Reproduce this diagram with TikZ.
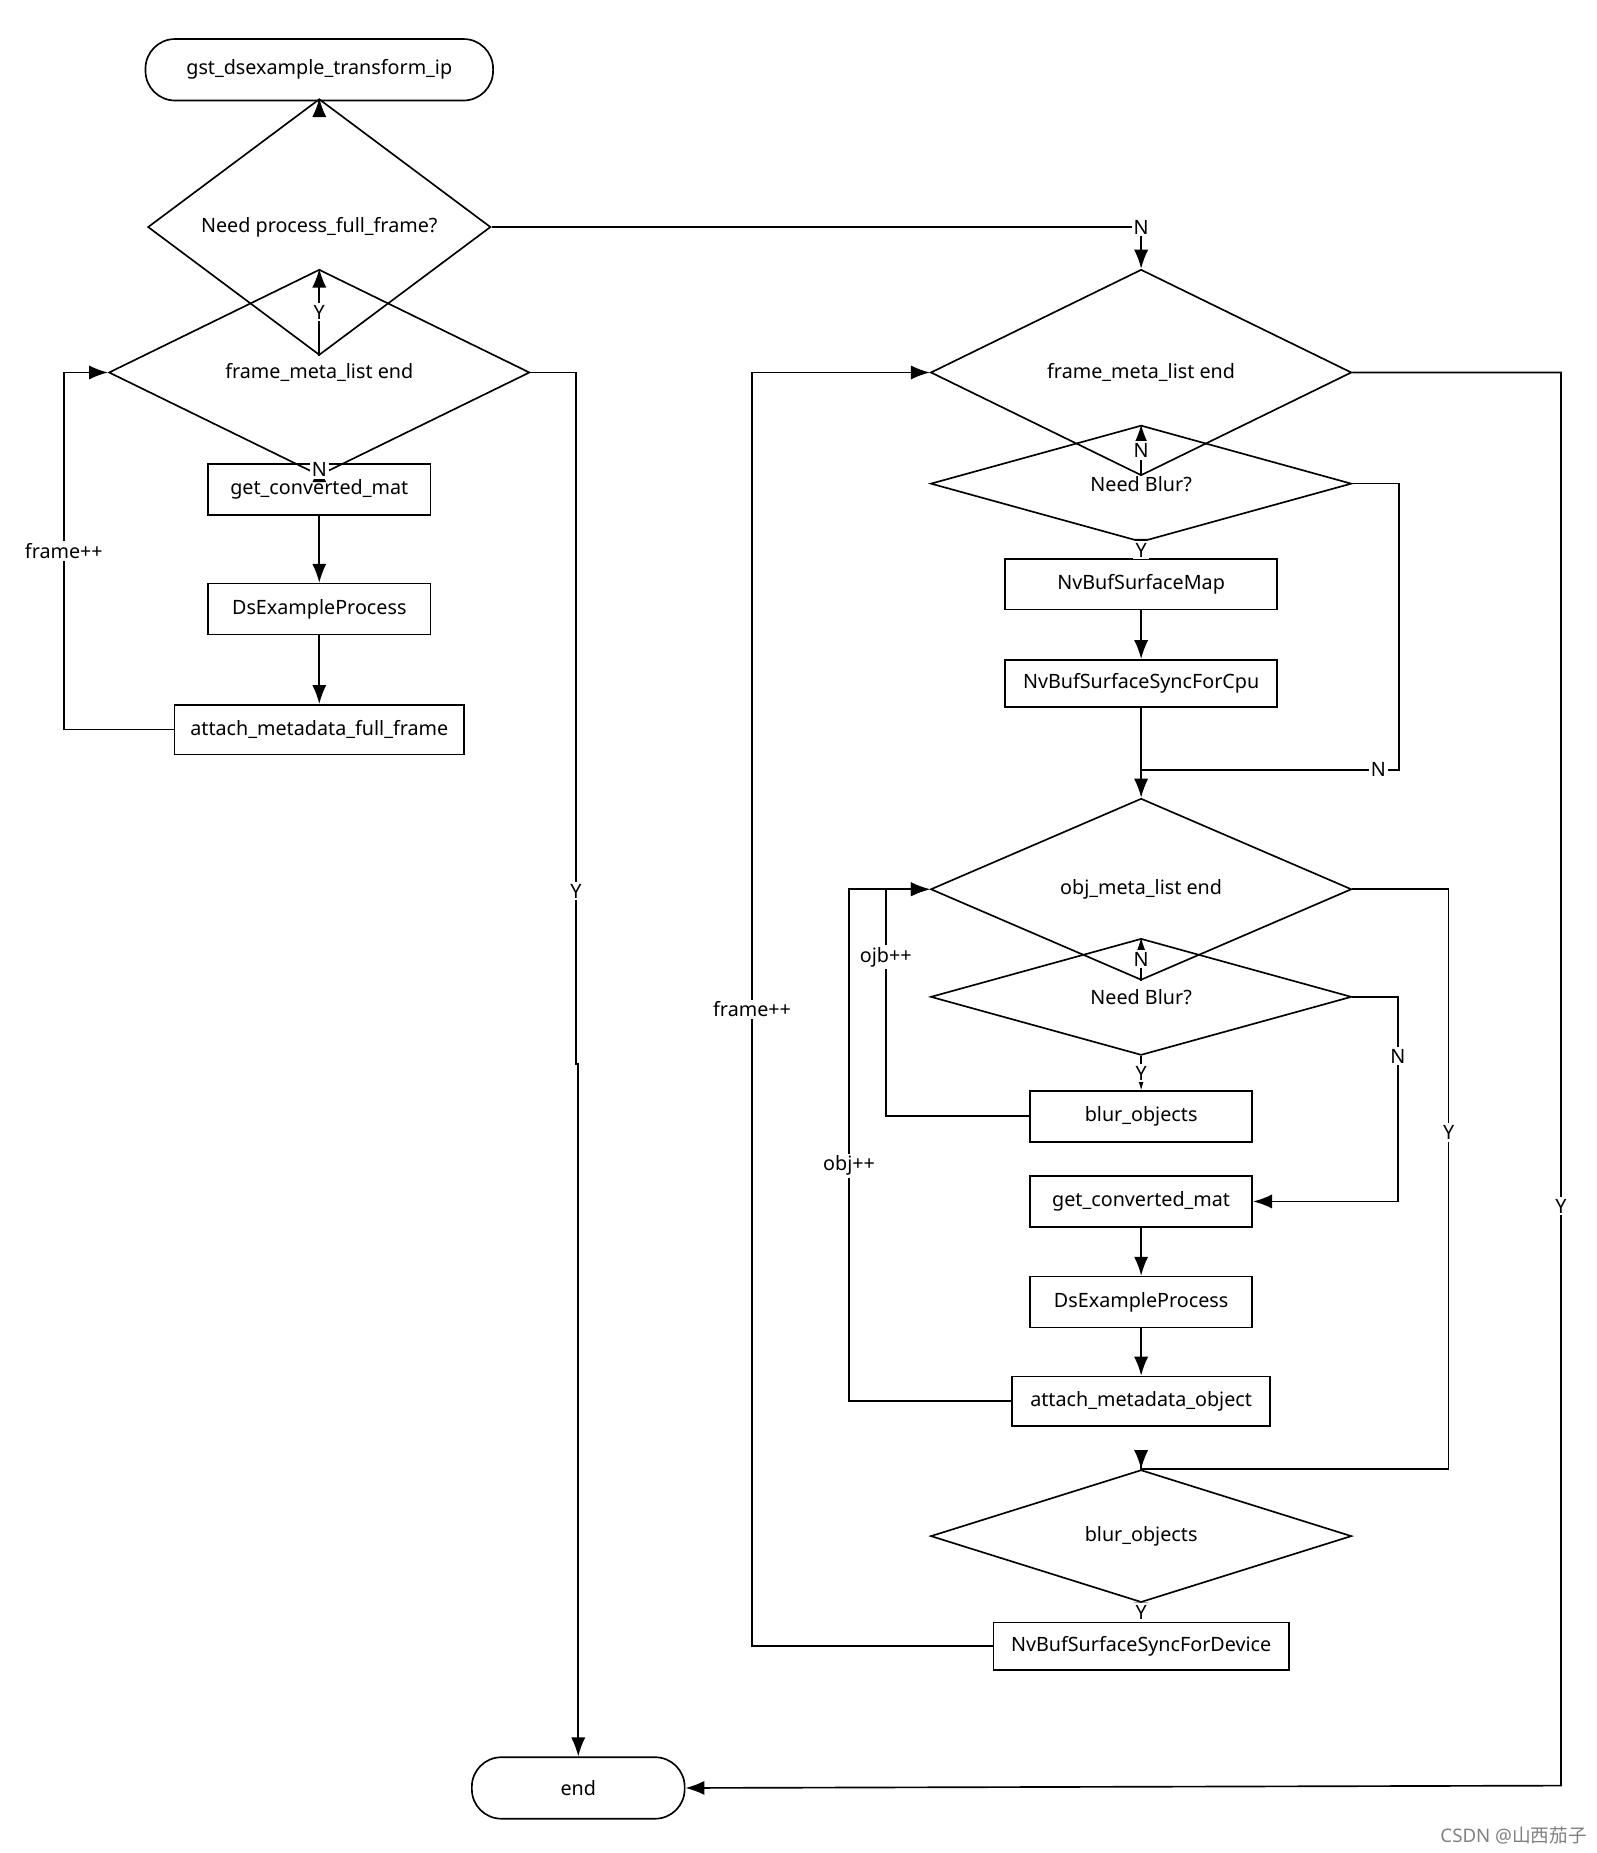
\documentclass[tikz,border=0pt]{standalone}
\usepackage{fontspec}
\setmainfont{Noto Sans}
\newfontfamily\cjk{Noto Sans CJK SC}
\usetikzlibrary{shapes.geometric, arrows.meta}

\begin{document}
\begin{tikzpicture}[x=0.02cm, y=-0.02cm, font=\fontsize{9.5}{11}\selectfont]

        % Setup the styles
        \tikzset{box/.style={draw, line width=0.8pt, minimum height=0.86cm, inner sep=2pt},
                 term/.style={box, rounded corners=0.5cm, minimum height=1.04cm},
                 cond/.style={diamond, draw, line width=0.8pt, inner sep=0pt,
                              minimum width=7.12cm, minimum height=1.0cm},
                 lbl/.style={fill=white, inner sep=1pt},
                 line/.style={line width=0.8pt},
                 arrow/.style={line, -{Latex[length=3.2mm, width=2.4mm]}}}

        \useasboundingbox (0,0) rectangle (1350,1567);

        % Left branch
        \node[term, minimum width=5.88cm] at (270, 59)   (start) {gst\_dsexample\_transform\_ip};
        \node[cond, minimum width=5.8cm, minimum height=1.08cm] at (270, 192) (full) {Need process\_full\_frame?};
        \node[cond] at (270, 315)   (fmL)  {frame\_meta\_list end};
        \node[box, minimum width=3.76cm] at (270, 414)   (convL) {get\_converted\_mat};
        \node[box, minimum width=3.76cm] at (270, 515)   (procL) {DsExampleProcess};
        \node[box, minimum width=4.9cm, minimum height=0.84cm] at (270, 617)   (attL)  {attach\_metadata\_full\_frame};
        \node[term, minimum width=3.6cm] at (489, 1512)  (end)   {end};

        % Right branch
        \node[cond] at (965, 315)   (fmR)   {frame\_meta\_list end};
        \node[cond, minimum height=0.76cm] at (965, 409)   (blur1) {Need Blur?};
        \node[box, minimum width=4.6cm] at (965, 494)   (map)   {NvBufSurfaceMap};
        \node[box, minimum width=4.6cm, minimum height=0.8cm] at (965, 578)   (cpu)   {NvBufSurfaceSyncForCpu};
        \node[cond] at (965, 752)   (om)    {obj\_meta\_list end};
        \node[cond, minimum height=0.72cm] at (965, 843)   (blur2) {Need Blur?};
        \node[box, minimum width=3.76cm] at (965, 944)   (bobj)  {blur\_objects};
        \node[box, minimum width=3.76cm] at (965, 1016)  (convR) {get\_converted\_mat};
        \node[box, minimum width=3.76cm] at (965, 1101)  (procR) {DsExampleProcess};
        \node[box, minimum width=4.36cm, minimum height=0.84cm] at (965, 1185)  (attR)  {attach\_metadata\_object};
        \node[cond, minimum height=0.72cm] at (965, 1299)  (blur3) {blur\_objects};
        \node[box, minimum width=5.0cm, minimum height=0.8cm] at (965, 1392)  (dev)   {NvBufSurfaceSyncForDevice};

        \node[text=gray, font=\fontsize{9}{11}\selectfont] at (1280, 1552) (mark) {CSDN @{\cjk 山西茄子}};

        % Connect the left branch
        \draw[arrow] (start) -- (full);
        \draw[arrow] (full) -- node[lbl] {Y} (fmL);
        \draw[arrow] (fmL) -- node[lbl] {N} (convL);
        \draw[arrow] (convL) -- (procL);
        \draw[arrow] (procL) -- (attL);
        \draw[arrow] (attL.west) -- (54, 617) -- node[lbl] {frame++} (54, 315) -- (fmL.west);
        \draw[arrow] (fmL.east) -- (487, 315) -- node[lbl, pos=0.75] {Y} (487, 900) -- (489, 900) -- (end.north);

        % Connect the right branch
        \draw[arrow] (full.east) -- node[lbl, pos=1] {N} (965, 192) -- (fmR.north);
        \draw[arrow] (fmR) -- node[lbl] {N} (blur1);
        \draw[arrow] (blur1) -- node[lbl] {Y} (map);
        \draw[arrow] (map) -- (cpu);
        \draw[arrow] (cpu) -- (om);
        \draw[line] (blur1.east) -- (1183, 409) -- (1183, 651) -- node[lbl, pos=0.08] {N} (965, 651);
        \draw[arrow] (om) -- node[lbl] {N} (blur2);
        \draw[arrow] (blur2) -- node[lbl] {Y} (bobj);
        \draw[arrow] (bobj.west) -- (749, 944) -- node[lbl, pos=0.7] {ojb++} (749, 752) -- (om.west);
        \draw[arrow] (blur2.east) -- (1182, 843) -- node[lbl, pos=0.29] {N} (1182, 1016) -- (convR.east);
        \draw[arrow] (convR) -- (procR);
        \draw[arrow] (procR) -- (attR);
        \draw[arrow] (attR.west) -- (718, 1185) -- node[lbl, pos=0.46] {obj++} (718, 752) -- (om.west);
        \draw[arrow] (om.east) -- (1225, 752) -- node[lbl, pos=0.42] {Y} (1225, 1242) -- (965, 1242) -- (blur3.north);
        \draw[arrow] (blur3) -- node[lbl] {Y} (dev);
        \draw[arrow] (dev.west) -- (636, 1392) -- node[lbl, pos=0.5] {frame++} (636, 315) -- (fmR.west);
        \draw[arrow] (fmR.east) -- (1320, 315) -- node[lbl, pos=0.59] {Y} (1320, 1510) -- (end.east);
    \end{tikzpicture}
\end{document}
